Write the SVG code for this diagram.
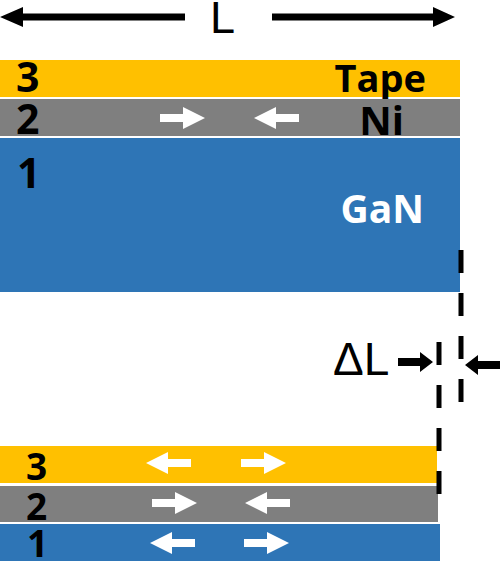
<svg xmlns="http://www.w3.org/2000/svg" xmlns:xlink="http://www.w3.org/1999/xlink" width="500" height="561" viewBox="0 0 500 561">
<style>
.lbl{font-family:"Open Sans","Liberation Sans",sans-serif;font-weight:700;fill:#000}
.wl{font-family:"Open Sans","Liberation Sans",sans-serif;font-weight:700;fill:#fff}
.reg{font-family:"Liberation Sans","DejaVu Sans",sans-serif;fill:#000}
.dash{stroke:#000;stroke-width:5;stroke-dasharray:23 20;fill:none}
.y{fill:#FFC000}.g{fill:#7F7F7F}.b{fill:#2E75B6}
.wa{fill:#fff}
</style>
<defs>
<polygon id="ar" points="0,-4 23,-4 23,-11 45,0 23,11 23,4 0,4"/>
<polygon id="ka" points="0,-4 22,-4 22,-10 35,0 22,10 22,4 0,4"/>
</defs>
<g id="dimension-L">
<polygon points="0,17 23,7 23,13.5 185,13.5 185,20.5 23,20.5 23,27" fill="#000"/>
<polygon points="455,17 433,7 433,13.5 272,13.5 272,20.5 433,20.5 433,27" fill="#000"/>
<text class="reg" x="210" y="33" font-size="45">L</text>
</g>
<g id="top-layer3">
<rect class="y" x="0" y="60" width="460" height="37"/>
<text class="lbl" x="16" y="92" font-size="41">3</text>
<text class="lbl" x="426" y="92" font-size="38" text-anchor="end">Tape</text>
</g>
<g id="top-layer2">
<rect class="g" x="0" y="99" width="460" height="37"/>
<text class="lbl" x="16" y="134" font-size="41">2</text>
<text class="lbl" x="404" y="135" font-size="40" text-anchor="end">Ni</text>
<use href="#ar" xlink:href="#ar" class="wa" transform="translate(160,118)"/>
<use href="#ar" xlink:href="#ar" class="wa" transform="translate(299,118) scale(-1,1)"/>
</g>
<g id="top-layer1">
<rect class="b" x="0" y="138" width="460" height="154"/>
<text class="lbl" x="17" y="188" font-size="41">1</text>
<text class="wl" x="424" y="223" font-size="39" text-anchor="end">GaN</text>
</g>
<g id="bottom-layer3">
<rect class="y" x="0" y="446" width="437" height="37"/>
<text class="lbl" x="26" y="480" font-size="37">3</text>
<use href="#ar" xlink:href="#ar" class="wa" transform="translate(191,463) scale(-1,1)"/>
<use href="#ar" xlink:href="#ar" class="wa" transform="translate(241,463)"/>
</g>
<g id="bottom-layer2">
<rect class="g" x="0" y="486" width="438" height="36"/>
<text class="lbl" x="26" y="520" font-size="37">2</text>
<use href="#ar" xlink:href="#ar" class="wa" transform="translate(152,503)"/>
<use href="#ar" xlink:href="#ar" class="wa" transform="translate(290,503) scale(-1,1)"/>
</g>
<g id="bottom-layer1">
<rect class="b" x="0" y="524" width="440" height="37"/>
<text class="lbl" x="27" y="557" font-size="37">1</text>
<use href="#ar" xlink:href="#ar" class="wa" transform="translate(195,543) scale(-1,1)"/>
<use href="#ar" xlink:href="#ar" class="wa" transform="translate(244,543)"/>
</g>
<g id="connectors">
<line class="dash" x1="461" y1="250" x2="461" y2="405"/>
<line class="dash" x1="439" y1="342" x2="439" y2="495"/>
<use href="#ka" xlink:href="#ka" transform="translate(398,362)"/>
<use href="#ka" xlink:href="#ka" transform="translate(500,365) scale(-1,1)"/>
</g>
<g id="delta-label">
<text class="reg" x="333" y="375" font-size="46">ΔL</text>
</g>
</svg>
